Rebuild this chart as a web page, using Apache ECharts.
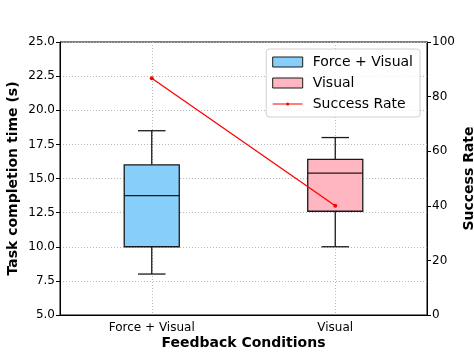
<!DOCTYPE html>
<html>
<head>
<meta charset="utf-8">
<script src="https://cdn.jsdelivr.net/npm/echarts@6/dist/echarts.min.js"></script>
<style>html,body{margin:0;padding:0;background:#fff}#c{width:474px;height:355px}</style>
</head>
<body>
<div id="c"></div>
<script>
const categories = ['Force + Visual', 'Visual'];
// [lower whisker, Q1, median, Q3, upper whisker]
const forceVisualBox = [8.0, 10.0, 13.75, 16.0, 18.5];
const visualBox = [10.0, 12.6, 15.4, 16.4, 18.0];
const successRate = [86.7, 40];
const seriesNames = ['Force + Visual', 'Visual', 'Success Rate'];
const boxColors = ['#87CEFA', '#FFB6C1'];

const FONT = 'DejaVu Sans';
const EDGE = '#1a1a1a';

function renderBox(params, api) {
  const x = api.value(0);
  const lo = api.coord([x, api.value(1)]);
  const q1 = api.coord([x, api.value(2)]);
  const med = api.coord([x, api.value(3)]);
  const q3 = api.coord([x, api.value(4)]);
  const hi = api.coord([x, api.value(5)]);
  const band = api.size([1, 0])[0];
  const bw = band * 0.3;
  const cw = bw / 2;
  const cx = lo[0];
  const fill = boxColors[params.seriesIndex];
  const ls = {stroke: EDGE, lineWidth: 1.3};
  return {
    type: 'group',
    children: [
      {type: 'line', shape: {x1: cx, y1: q3[1], x2: cx, y2: hi[1]}, style: ls},
      {type: 'line', shape: {x1: cx, y1: q1[1], x2: cx, y2: lo[1]}, style: ls},
      {type: 'line', shape: {x1: cx - cw / 2, y1: hi[1], x2: cx + cw / 2, y2: hi[1]}, style: ls},
      {type: 'line', shape: {x1: cx - cw / 2, y1: lo[1], x2: cx + cw / 2, y2: lo[1]}, style: ls},
      {type: 'rect', shape: {x: cx - bw / 2, y: q3[1], width: bw, height: q1[1] - q3[1]},
        style: {fill: fill, stroke: EDGE, lineWidth: 1.3}},
      {type: 'line', shape: {x1: cx - bw / 2, y1: med[1], x2: cx + bw / 2, y2: med[1]}, style: ls}
    ]
  };
}

const chart = echarts.init(document.getElementById('c'), null, {renderer: 'canvas'});
chart.setOption({
  animation: false,
  backgroundColor: '#fff',
  textStyle: {fontFamily: FONT},
  grid: {left: 60, right: 47, top: 42, bottom: 40, show: true, borderColor: '#000', borderWidth: 1,
    containLabel: false, outerBoundsMode: 'none'},
  legend: {
    orient: 'vertical',
    right: 54,
    top: 49,
    itemWidth: 30,
    itemHeight: 10,
    itemGap: 7,
    padding: [6, 7, 6, 6],
    borderColor: '#d0d0d0',
    borderWidth: 1,
    borderRadius: 3,
    backgroundColor: 'rgba(255,255,255,0.8)',
    textStyle: {fontFamily: FONT, fontSize: 14, color: '#000', padding: [0, 0, 0, 5]},
    data: [
      {name: seriesNames[0], icon: 'rect', itemStyle: {color: boxColors[0], borderColor: EDGE, borderWidth: 1}},
      {name: seriesNames[1], icon: 'rect', itemStyle: {color: boxColors[1], borderColor: EDGE, borderWidth: 1}},
      {name: seriesNames[2], icon: 'path://M0,4.4L30,4.4L30,5.6L0,5.6Z M13.4,5A1.6,1.6,0,1,1,16.6,5A1.6,1.6,0,1,1,13.4,5Z',
        itemStyle: {color: '#ff0000', borderWidth: 0}}
    ]
  },
  xAxis: {
    type: 'category',
    data: categories,
    boundaryGap: true,
    name: 'Feedback Conditions',
    nameLocation: 'middle',
    nameGap: 21,
    nameMoveOverlap: false,
    nameTextStyle: {fontFamily: FONT, fontSize: 14, fontWeight: 'bold', color: '#000'},
    axisLine: {lineStyle: {color: '#000', width: 1}},
    axisTick: {alignWithLabel: true, length: 4, lineStyle: {color: '#000'}},
    axisLabel: {fontFamily: FONT, fontSize: 12, color: '#000', margin: 7},
    splitLine: {show: true, alignWithLabel: true, lineStyle: {color: '#b8b8b8', type: [1, 2], width: 1}}
  },
  yAxis: [
    {
      type: 'value',
      min: 5, max: 25, interval: 2.5,
      name: 'Task completion time (s)',
      nameLocation: 'middle',
      nameRotate: 90,
      nameGap: 40,
      nameMoveOverlap: false,
      nameTextStyle: {fontFamily: FONT, fontSize: 14, fontWeight: 'bold', color: '#000'},
      axisLine: {show: true, lineStyle: {color: '#000'}},
      axisTick: {show: true, length: 4, lineStyle: {color: '#000'}},
      axisLabel: {fontFamily: FONT, fontSize: 12, color: '#000', margin: 5, formatter: v => v.toFixed(1)},
      splitLine: {show: true, lineStyle: {color: '#b8b8b8', type: [1, 2], width: 1}}
    },
    {
      type: 'value',
      min: 0, max: 100, interval: 20,
      position: 'right',
      name: 'Success Rate',
      nameLocation: 'middle',
      nameRotate: 90,
      nameGap: 35,
      nameMoveOverlap: false,
      nameTextStyle: {fontFamily: FONT, fontSize: 14, fontWeight: 'bold', color: '#000'},
      axisLine: {show: true, lineStyle: {color: '#000'}},
      axisTick: {show: true, length: 4, lineStyle: {color: '#000'}},
      axisLabel: {fontFamily: FONT, fontSize: 12, color: '#000', margin: 5},
      splitLine: {show: false}
    }
  ],
  series: [
    {
      name: seriesNames[0], type: 'custom', renderItem: renderBox,
      itemStyle: {color: boxColors[0]},
      encode: {x: 0, y: [1, 2, 3, 4, 5]},
      data: [[0].concat(forceVisualBox)]
    },
    {
      name: seriesNames[1], type: 'custom', renderItem: renderBox,
      itemStyle: {color: boxColors[1]},
      encode: {x: 0, y: [1, 2, 3, 4, 5]},
      data: [[1].concat(visualBox)]
    },
    {
      name: seriesNames[2], type: 'line', yAxisIndex: 1, z: 5,
      data: successRate,
      symbol: 'circle', symbolSize: 4,
      itemStyle: {color: '#ff0000'},
      lineStyle: {color: '#ff0000', width: 1.3}
    }
  ]
});
</script>
</body>
</html>
